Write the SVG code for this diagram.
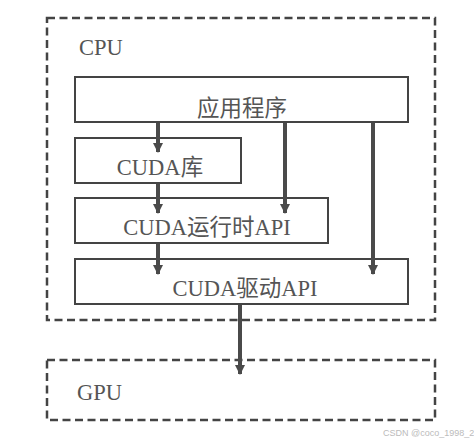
<svg xmlns="http://www.w3.org/2000/svg" width="474" height="444" viewBox="0 0 474 444">
<defs>
<marker id="ah" viewBox="0 0 10 10" refX="9" refY="5" markerWidth="2.6" markerHeight="2.6" orient="auto" markerUnits="strokeWidth">
<path d="M0,0 L10,5 L0,10 Z" fill="#4a4a4a"/>
</marker>
<style>
.dash{fill:none;stroke:#444;stroke-width:2.5;stroke-dasharray:8 4.5}
.box{fill:#fff;stroke:#444;stroke-width:2}
.t{font-family:"Liberation Serif","Noto Sans CJK SC",serif;fill:#555;font-size:22.5px}
.l{font-family:"Liberation Serif",serif}
.k{font-family:"Noto Sans CJK SC",sans-serif;font-size:22.5px}
.c{stroke:#4a4a4a;stroke-width:4;fill:none;marker-end:url(#ah)}
</style>
</defs>
<rect width="474" height="444" fill="#fff"/>
<g id="cpu">
<rect class="dash" x="47" y="18" width="388" height="302"/>
<text class="t" x="79" y="55">CPU</text>
</g>
<g id="gpu">
<rect class="dash" x="47" y="360" width="388" height="60"/>
<text class="t" x="77" y="400">GPU</text>
</g>
<g id="app">
<rect class="box" x="75" y="77" width="333" height="45"/>
<text class="t" x="242" y="116" text-anchor="middle"><tspan class="k">应用程序</tspan></text>
</g>
<g id="lib">
<rect class="box" x="75" y="138" width="166" height="45"/>
<text class="t" x="160" y="175" text-anchor="middle"><tspan class="l">CUDA</tspan><tspan class="k">库</tspan></text>
</g>
<g id="runtime">
<rect class="box" x="75" y="198" width="253" height="45"/>
<text class="t" x="207" y="235" text-anchor="middle"><tspan class="l">CUDA</tspan><tspan class="k">运行时</tspan><tspan class="l">API</tspan></text>
</g>
<g id="driver">
<rect class="box" x="75" y="259" width="333" height="45"/>
<text class="t" x="245" y="296" text-anchor="middle"><tspan class="l">CUDA</tspan><tspan class="k">驱动</tspan><tspan class="l">API</tspan></text>
</g>
<g id="connectors">
<line class="c" x1="158" y1="123" x2="158" y2="152"/>
<line class="c" x1="158" y1="184" x2="158" y2="213"/>
<line class="c" x1="158" y1="244" x2="158" y2="274"/>
<line class="c" x1="285" y1="123" x2="285" y2="213"/>
<line class="c" x1="373" y1="123" x2="373" y2="274"/>
<line class="c" x1="240" y1="305" x2="240" y2="374"/>
</g>
<text x="383" y="436" font-family="Liberation Sans,sans-serif" font-size="9" fill="#bbb">CSDN @coco_1998_2</text>
</svg>
